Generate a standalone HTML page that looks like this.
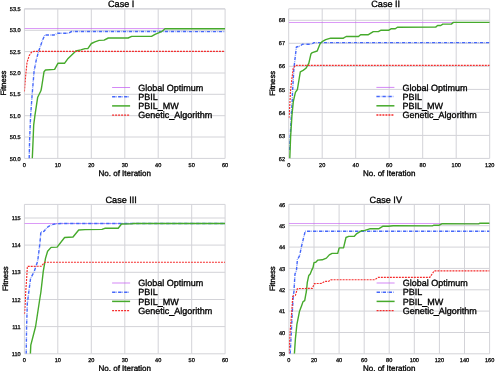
<!DOCTYPE html>
<html lang="en"><head><meta charset="utf-8"><title>Fitness vs. No. of Iteration</title>
<style>html,body{margin:0;padding:0;background:#fff}body{width:495px;height:371px;overflow:hidden}svg{display:block}text{font-family:"Liberation Sans", sans-serif;fill:#000000;stroke:#000000;stroke-width:0.25px;text-rendering:geometricPrecision}text.b{stroke-width:0.32px}</style></head><body>
<svg width="495" height="371" viewBox="0 0 495 371">
<rect width="495" height="371" fill="#fff"/>
<g>
<path d="M24.4 8.9 V158.4 M57.8 8.9 V158.4 M91.3 8.9 V158.4 M124.8 8.9 V158.4 M158.2 8.9 V158.4 M191.7 8.9 V158.4 M225.1 8.9 V158.4 M24.4 158.4 H225.1 M24.4 137.0 H225.1 M24.4 115.7 H225.1 M24.4 94.3 H225.1 M24.4 73.0 H225.1 M24.4 51.6 H225.1 M24.4 30.3 H225.1 M24.4 8.9 H225.1 M24.4 8.9 H225.1" stroke="#d3d3d8" stroke-width="1" fill="none"/>
<clipPath id="c0"><rect x="24.4" y="8.9" width="200.7" height="149.5"/></clipPath>
<g clip-path="url(#c0)" fill="none" stroke-linejoin="round">
<path d="M24.4 28.5 L225.1 28.5" stroke="#c255f2" stroke-width="0.6"/>
<path d="M29.2 158.4 L29.6 140.0 L30.6 116.3 L32.0 96.5 L32.7 88.0 L34.1 71.1 L36.3 59.8 L38.4 52.0 L42.6 40.0 L44.8 35.0 L54.0 35.0 L57.5 33.3 L68.0 33.3 L71.6 31.5 L225.1 31.6" stroke="#4668fa" stroke-width="1.4" stroke-dasharray="3.4 1 0.5 1.1"/>
<path d="M32.3 158.4 L33.1 140.0 L33.7 124.8 L34.9 115.6 L37.7 97.2 L40.9 90.8 L41.5 88.0 L44.0 71.8 L45.5 70.0 L54.6 69.4 L57.9 63.3 L64.5 63.3 L68.1 58.4 L75.9 51.0 L80.8 49.9 L85.0 48.6 L87.8 48.6 L91.4 43.5 L94.9 41.8 L99.1 40.4 L104.1 40.1 L108.3 38.0 L128.1 38.0 L131.7 36.4 L151.5 36.4 L155.0 34.4 L162.1 31.3 L165.0 28.7 L225.1 28.7" stroke="#46aa2c" stroke-width="1.4"/>
<path d="M24.4 91.5 L25.7 75.4 L27.0 62.6 L29.2 55.6 L31.3 52.4 L34.1 51.4 L225.1 51.4" stroke="#f52c2c" stroke-width="1.15" stroke-dasharray="2 1"/>
</g>
<text x="24.4" y="166.5" font-size="5.6" text-anchor="middle">0</text>
<text x="57.8" y="166.5" font-size="5.6" text-anchor="middle">10</text>
<text x="91.3" y="166.5" font-size="5.6" text-anchor="middle">20</text>
<text x="124.8" y="166.5" font-size="5.6" text-anchor="middle">30</text>
<text x="158.2" y="166.5" font-size="5.6" text-anchor="middle">40</text>
<text x="191.7" y="166.5" font-size="5.6" text-anchor="middle">50</text>
<text x="225.1" y="166.5" font-size="5.6" text-anchor="middle">60</text>
<text x="20.7" y="160.5" font-size="5.6" text-anchor="end">50.0</text>
<text x="20.7" y="139.1" font-size="5.6" text-anchor="end">50.5</text>
<text x="20.7" y="117.8" font-size="5.6" text-anchor="end">51.0</text>
<text x="20.7" y="96.4" font-size="5.6" text-anchor="end">51.5</text>
<text x="20.7" y="75.1" font-size="5.6" text-anchor="end">52.0</text>
<text x="20.7" y="53.7" font-size="5.6" text-anchor="end">52.5</text>
<text x="20.7" y="32.4" font-size="5.6" text-anchor="end">53.0</text>
<text x="20.7" y="11.0" font-size="5.6" text-anchor="end">53.5</text>
<text x="121.2" y="7.1" font-size="9.1" text-anchor="middle" class="b">Case I</text>
<text x="124.8" y="175.5" font-size="8" text-anchor="middle" class="b">No. of Iteration</text>
<text transform="translate(6.0 83.0) rotate(-90)" font-size="7.7" text-anchor="middle" class="b">Fitness</text>
<path d="M112.1 87.5 H130.1" stroke="#c255f2" stroke-width="0.7" fill="none"/>
<text x="138.3" y="90.7" font-size="9" class="b">Global Optimum</text>
<path d="M112.1 96.7 H130.1" stroke="#4668fa" stroke-width="1.5" stroke-dasharray="3.4 1 0.5 1.1" fill="none"/>
<text x="138.3" y="99.9" font-size="9" class="b">PBIL</text>
<path d="M112.1 105.9 H130.1" stroke="#46aa2c" stroke-width="1.5" fill="none"/>
<text x="138.3" y="109.1" font-size="9" class="b">PBIL_MW</text>
<path d="M112.1 115.1 H130.1" stroke="#f52c2c" stroke-width="1.3" stroke-dasharray="2 1" fill="none"/>
<text x="138.3" y="118.3" font-size="9" class="b">Genetic_Algorithm</text>
</g>
<g>
<path d="M288.7 8.8 V158.4 M322.2 8.8 V158.4 M355.7 8.8 V158.4 M389.2 8.8 V158.4 M422.7 8.8 V158.4 M456.2 8.8 V158.4 M489.7 8.8 V158.4 M288.7 158.4 H489.7 M288.7 135.4 H489.7 M288.7 112.4 H489.7 M288.7 89.4 H489.7 M288.7 66.3 H489.7 M288.7 43.3 H489.7 M288.7 20.3 H489.7 M288.7 8.8 H489.7" stroke="#d3d3d8" stroke-width="1" fill="none"/>
<clipPath id="c1"><rect x="288.7" y="8.8" width="201.0" height="149.6"/></clipPath>
<g clip-path="url(#c1)" fill="none" stroke-linejoin="round">
<path d="M288.7 22.5 L489.7 22.5" stroke="#c255f2" stroke-width="0.6"/>
<path d="M289.6 150.0 L290.2 137.0 L291.3 116.0 L292.3 99.5 L292.5 92.0 L293.9 68.3 L296.4 47.0 L300.3 46.0 L302.4 44.2 L311.6 44.2 L314.0 42.6 L489.7 42.6" stroke="#4668fa" stroke-width="1.4" stroke-dasharray="3.4 1 0.5 1.1"/>
<path d="M289.8 158.4 L290.6 137.0 L291.9 116.0 L293.3 101.6 L295.4 92.3 L297.4 89.5 L300.3 71.8 L303.1 70.4 L305.9 68.3 L308.8 63.3 L310.9 54.1 L312.3 52.6 L317.2 51.0 L320.1 43.7 L322.5 41.3 L325.7 39.7 L330.7 38.2 L343.4 38.2 L346.2 36.5 L358.5 36.5 L360.6 34.7 L368.4 34.7 L373.3 31.6 L378.3 31.6 L381.1 30.2 L388.9 30.2 L391.0 28.8 L395.3 28.8 L397.4 27.2 L435.7 27.1 L437.6 25.5 L440.8 25.5 L442.8 24.1 L451.3 24.1 L453.4 22.4 L489.7 22.4" stroke="#46aa2c" stroke-width="1.4"/>
<path d="M288.7 118.0 L289.2 116.0 L290.2 97.4 L290.4 92.0 L291.8 79.6 L293.2 68.3 L295.3 65.4 L489.7 65.4" stroke="#f52c2c" stroke-width="1.15" stroke-dasharray="2 1"/>
</g>
<text x="288.7" y="166.5" font-size="5.6" text-anchor="middle">0</text>
<text x="322.2" y="166.5" font-size="5.6" text-anchor="middle">20</text>
<text x="355.7" y="166.5" font-size="5.6" text-anchor="middle">40</text>
<text x="389.2" y="166.5" font-size="5.6" text-anchor="middle">60</text>
<text x="422.7" y="166.5" font-size="5.6" text-anchor="middle">80</text>
<text x="456.2" y="166.5" font-size="5.6" text-anchor="middle">100</text>
<text x="489.7" y="166.5" font-size="5.6" text-anchor="middle">120</text>
<text x="285.0" y="160.5" font-size="5.6" text-anchor="end">62</text>
<text x="285.0" y="137.5" font-size="5.6" text-anchor="end">63</text>
<text x="285.0" y="114.5" font-size="5.6" text-anchor="end">64</text>
<text x="285.0" y="91.5" font-size="5.6" text-anchor="end">65</text>
<text x="285.0" y="68.4" font-size="5.6" text-anchor="end">66</text>
<text x="285.0" y="45.4" font-size="5.6" text-anchor="end">67</text>
<text x="285.0" y="22.4" font-size="5.6" text-anchor="end">68</text>
<text x="385.7" y="7.0" font-size="9.1" text-anchor="middle" class="b">Case II</text>
<text x="389.2" y="175.5" font-size="8" text-anchor="middle" class="b">No. of Iteration</text>
<text transform="translate(275.3 83.3) rotate(-90)" font-size="7.7" text-anchor="middle" class="b">Fitness</text>
<path d="M376.4 87.4 H394.4" stroke="#c255f2" stroke-width="0.7" fill="none"/>
<text x="402.6" y="90.6" font-size="9" class="b">Global Optimum</text>
<path d="M376.4 96.6 H394.4" stroke="#4668fa" stroke-width="1.5" stroke-dasharray="3.4 1 0.5 1.1" fill="none"/>
<text x="402.6" y="99.8" font-size="9" class="b">PBIL</text>
<path d="M376.4 105.8 H394.4" stroke="#46aa2c" stroke-width="1.5" fill="none"/>
<text x="402.6" y="109.0" font-size="9" class="b">PBIL_MW</text>
<path d="M376.4 115.0 H394.4" stroke="#f52c2c" stroke-width="1.3" stroke-dasharray="2 1" fill="none"/>
<text x="402.6" y="118.2" font-size="9" class="b">Genetic_Algorithm</text>
</g>
<g>
<path d="M24.4 204.4 V353.8 M57.8 204.4 V353.8 M91.3 204.4 V353.8 M124.8 204.4 V353.8 M158.2 204.4 V353.8 M191.7 204.4 V353.8 M225.1 204.4 V353.8 M24.4 353.8 H225.1 M24.4 326.6 H225.1 M24.4 299.5 H225.1 M24.4 272.3 H225.1 M24.4 245.1 H225.1 M24.4 218.0 H225.1 M24.4 204.4 H225.1" stroke="#d3d3d8" stroke-width="1" fill="none"/>
<clipPath id="c2"><rect x="24.4" y="204.4" width="200.7" height="149.4"/></clipPath>
<g clip-path="url(#c2)" fill="none" stroke-linejoin="round">
<path d="M24.4 223.5 L225.1 223.5" stroke="#c255f2" stroke-width="0.6"/>
<path d="M26.2 353.8 L26.6 326.5 L27.3 303.7 L28.8 292.0 L30.6 278.2 L34.1 271.8 L37.7 261.2 L39.8 244.2 L40.9 231.8 L44.0 231.4 L46.9 227.6 L50.4 225.2 L54.7 224.0 L61.0 223.5 L225.1 223.5" stroke="#4668fa" stroke-width="1.4" stroke-dasharray="3.4 1 0.5 1.1"/>
<path d="M30.4 353.8 L30.8 345.2 L35.6 326.5 L39.7 299.5 L40.9 292.0 L43.3 271.1 L45.5 258.4 L47.6 251.3 L51.1 247.4 L57.1 247.1 L64.6 237.5 L73.0 237.0 L78.7 230.0 L85.0 229.6 L102.0 229.4 L104.8 228.3 L118.2 228.3 L121.5 224.0 L131.7 223.8 L133.8 223.5 L225.1 223.5" stroke="#46aa2c" stroke-width="1.4"/>
<path d="M24.5 314.0 L25.2 303.7 L25.7 292.0 L26.4 282.4 L27.4 266.4 L41.2 266.2 L44.8 262.2 L225.1 262.2" stroke="#f52c2c" stroke-width="1.15" stroke-dasharray="2 1"/>
</g>
<text x="24.4" y="361.9" font-size="5.6" text-anchor="middle">0</text>
<text x="57.8" y="361.9" font-size="5.6" text-anchor="middle">10</text>
<text x="91.3" y="361.9" font-size="5.6" text-anchor="middle">20</text>
<text x="124.8" y="361.9" font-size="5.6" text-anchor="middle">30</text>
<text x="158.2" y="361.9" font-size="5.6" text-anchor="middle">40</text>
<text x="191.7" y="361.9" font-size="5.6" text-anchor="middle">50</text>
<text x="225.1" y="361.9" font-size="5.6" text-anchor="middle">60</text>
<text x="20.7" y="355.9" font-size="5.6" text-anchor="end">110</text>
<text x="20.7" y="328.7" font-size="5.6" text-anchor="end">111</text>
<text x="20.7" y="301.6" font-size="5.6" text-anchor="end">112</text>
<text x="20.7" y="274.4" font-size="5.6" text-anchor="end">113</text>
<text x="20.7" y="247.2" font-size="5.6" text-anchor="end">114</text>
<text x="20.7" y="220.1" font-size="5.6" text-anchor="end">115</text>
<text x="121.2" y="202.6" font-size="9.1" text-anchor="middle" class="b">Case III</text>
<text x="124.8" y="370.9" font-size="8" text-anchor="middle" class="b">No. of Iteration</text>
<text transform="translate(7.6 278.7) rotate(-90)" font-size="7.7" text-anchor="middle" class="b">Fitness</text>
<path d="M112.1 283.0 H130.1" stroke="#c255f2" stroke-width="0.7" fill="none"/>
<text x="138.3" y="286.2" font-size="9" class="b">Global Optimum</text>
<path d="M112.1 292.2 H130.1" stroke="#4668fa" stroke-width="1.5" stroke-dasharray="3.4 1 0.5 1.1" fill="none"/>
<text x="138.3" y="295.4" font-size="9" class="b">PBIL</text>
<path d="M112.1 301.4 H130.1" stroke="#46aa2c" stroke-width="1.5" fill="none"/>
<text x="138.3" y="304.6" font-size="9" class="b">PBIL_MW</text>
<path d="M112.1 310.6 H130.1" stroke="#f52c2c" stroke-width="1.3" stroke-dasharray="2 1" fill="none"/>
<text x="138.3" y="313.8" font-size="9" class="b">Genetic_Algorithm</text>
</g>
<g>
<path d="M288.9 204.4 V353.8 M314.0 204.4 V353.8 M339.1 204.4 V353.8 M364.2 204.4 V353.8 M389.2 204.4 V353.8 M414.3 204.4 V353.8 M439.4 204.4 V353.8 M464.5 204.4 V353.8 M489.6 204.4 V353.8 M288.9 353.8 H489.6 M288.9 332.5 H489.6 M288.9 311.1 H489.6 M288.9 289.8 H489.6 M288.9 268.4 H489.6 M288.9 247.1 H489.6 M288.9 225.7 H489.6 M288.9 204.4 H489.6 M288.9 204.4 H489.6" stroke="#d3d3d8" stroke-width="1" fill="none"/>
<clipPath id="c3"><rect x="288.9" y="204.4" width="200.7" height="149.4"/></clipPath>
<g clip-path="url(#c3)" fill="none" stroke-linejoin="round">
<path d="M288.9 223.5 L489.6 223.5" stroke="#c255f2" stroke-width="0.6"/>
<path d="M290.2 353.8 L291.3 332.7 L292.3 312.0 L293.3 295.4 L293.9 292.0 L295.0 273.9 L296.4 271.1 L297.4 259.8 L299.6 255.6 L301.7 245.5 L305.2 231.3 L489.6 231.3" stroke="#4668fa" stroke-width="1.4" stroke-dasharray="3.4 1 0.5 1.1"/>
<path d="M294.4 353.8 L295.4 338.9 L296.9 324.4 L299.6 310.9 L301.6 305.7 L303.1 301.6 L304.7 300.6 L305.8 294.3 L306.3 292.0 L307.3 282.4 L308.8 275.4 L310.2 273.9 L311.6 270.4 L313.0 267.6 L314.0 262.6 L315.8 262.2 L317.9 260.1 L322.2 259.8 L326.4 258.1 L329.3 254.9 L332.1 253.4 L337.7 253.4 L339.2 247.9 L343.6 247.7 L346.0 237.5 L348.7 236.4 L354.1 236.4 L356.8 233.6 L361.7 230.7 L364.9 230.4 L369.7 228.8 L378.6 228.8 L382.7 226.3 L388.3 226.2 L393.2 225.7 L432.3 225.9 L434.0 225.2 L439.2 225.2 L441.8 223.8 L478.7 223.9 L479.6 223.2 L489.6 223.2" stroke="#46aa2c" stroke-width="1.4"/>
<path d="M289.0 353.8 L290.2 330.6 L291.9 309.9 L292.7 296.4 L295.4 295.4 L297.4 288.5 L312.3 288.4 L314.4 283.6 L321.5 283.4 L325.0 281.4 L328.6 281.4 L330.7 279.8 L374.8 279.7 L378.3 277.3 L429.8 277.3 L434.3 270.8 L489.6 270.8" stroke="#f52c2c" stroke-width="1.15" stroke-dasharray="2 1"/>
</g>
<text x="288.9" y="361.9" font-size="5.6" text-anchor="middle">0</text>
<text x="314.0" y="361.9" font-size="5.6" text-anchor="middle">20</text>
<text x="339.1" y="361.9" font-size="5.6" text-anchor="middle">40</text>
<text x="364.2" y="361.9" font-size="5.6" text-anchor="middle">60</text>
<text x="389.2" y="361.9" font-size="5.6" text-anchor="middle">80</text>
<text x="414.3" y="361.9" font-size="5.6" text-anchor="middle">100</text>
<text x="439.4" y="361.9" font-size="5.6" text-anchor="middle">120</text>
<text x="464.5" y="361.9" font-size="5.6" text-anchor="middle">140</text>
<text x="489.6" y="361.9" font-size="5.6" text-anchor="middle">160</text>
<text x="285.2" y="355.9" font-size="5.6" text-anchor="end">39</text>
<text x="285.2" y="334.6" font-size="5.6" text-anchor="end">40</text>
<text x="285.2" y="313.2" font-size="5.6" text-anchor="end">41</text>
<text x="285.2" y="291.9" font-size="5.6" text-anchor="end">42</text>
<text x="285.2" y="270.5" font-size="5.6" text-anchor="end">43</text>
<text x="285.2" y="249.2" font-size="5.6" text-anchor="end">44</text>
<text x="285.2" y="227.8" font-size="5.6" text-anchor="end">45</text>
<text x="285.2" y="206.5" font-size="5.6" text-anchor="end">46</text>
<text x="385.8" y="202.6" font-size="9.1" text-anchor="middle" class="b">Case IV</text>
<text x="389.2" y="370.9" font-size="8" text-anchor="middle" class="b">No. of Iteration</text>
<text transform="translate(275.1 278.7) rotate(-90)" font-size="7.7" text-anchor="middle" class="b">Fitness</text>
<path d="M376.6 283.0 H394.6" stroke="#c255f2" stroke-width="0.7" fill="none"/>
<text x="402.8" y="286.2" font-size="9" class="b">Global Optimum</text>
<path d="M376.6 292.2 H394.6" stroke="#4668fa" stroke-width="1.5" stroke-dasharray="3.4 1 0.5 1.1" fill="none"/>
<text x="402.8" y="295.4" font-size="9" class="b">PBIL</text>
<path d="M376.6 301.4 H394.6" stroke="#46aa2c" stroke-width="1.5" fill="none"/>
<text x="402.8" y="304.6" font-size="9" class="b">PBIL_MW</text>
<path d="M376.6 310.6 H394.6" stroke="#f52c2c" stroke-width="1.3" stroke-dasharray="2 1" fill="none"/>
<text x="402.8" y="313.8" font-size="9" class="b">Genetic_Algorithm</text>
</g>
</svg></body></html>
